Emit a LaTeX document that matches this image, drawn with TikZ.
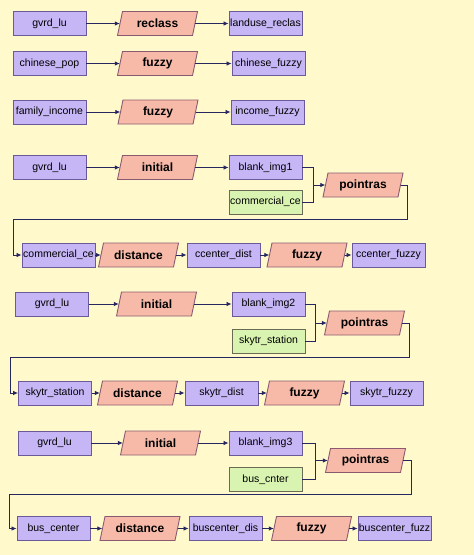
\documentclass[tikz,border=0pt]{standalone}
\usepackage{fontspec}
\setmainfont{Liberation Sans}
\usetikzlibrary{arrows.meta}
\definecolor{bg}{HTML}{FFF9CC}
\definecolor{boxfill}{HTML}{C6B6F6}
\definecolor{boxdraw}{HTML}{6A5A9A}
\definecolor{greenfill}{HTML}{D9F4B0}
\definecolor{greendraw}{HTML}{6A6A55}
\definecolor{toolfill}{HTML}{F8BAA8}
\definecolor{tooldraw}{HTML}{8A5A70}
\definecolor{conncol}{HTML}{262660}
\tikzset{
  x=1pt, y=-1pt,
  databox/.style={rectangle, draw=boxdraw, fill=boxfill, line width=0.9pt,
    minimum width=73pt, minimum height=24pt, inner sep=0pt,
    font=\fontsize{10.5}{12}\selectfont},
  inbox/.style={databox, draw=greendraw, fill=greenfill},
  toolnode/.style={rectangle, minimum width=75pt, minimum height=24pt, inner sep=0pt,
    font=\bfseries\fontsize{12}{13}\selectfont},
  toolshape/.style={draw=tooldraw, fill=toolfill, line width=0.9pt},
  conn/.style={draw=conncol, line width=0.8pt, -{Latex[length=5pt,width=4.5pt]}},
  plain/.style={draw=conncol, line width=0.8pt}
}
\newcommand\tool[4]{%
  \path[toolshape] ({#2-40},{#3+12}) -- ({#2-35},{#3-12}) -- ({#2+40},{#3-12}) -- ({#2+35},{#3+12}) -- cycle;
  \node[toolnode] (#1) at (#2,#3) {#4};}
\begin{document}
\begin{tikzpicture}
\fill[bg] (0,0) rectangle (474,555);
\useasboundingbox (0,0) rectangle (474,555);
% row 1
\node[databox] (a1) at (49.5,23.5) {gvrd\_lu};
\tool{a2}{157.5}{23.5}{reclass}
\node[databox] (a3) at (265.5,23.5) {landuse\_reclas};
\draw[conn] (a1) -- (a2);
\draw[conn] (a2) -- (a3);
% row 2
\node[databox] (b1) at (49.5,63.5) {chinese\_pop};
\tool{b2}{157.5}{63.5}{fuzzy}
\node[databox] (b3) at (268.5,63.5) {chinese\_fuzzy};
\draw[conn] (b1) -- (b2);
\draw[conn] (b2) -- (b3);
% row 3
\node[databox] (c1) at (49.5,112) {family\_income};
\tool{c2}{158}{112}{fuzzy}
\node[databox] (c3) at (267.5,112) {income\_fuzzy};
\draw[conn] (c1) -- (c2);
\draw[conn] (c2) -- (c3);
% block 1
\node[databox] (d1) at (49.5,167.5) {gvrd\_lu};
\tool{d2}{157.5}{167.5}{initial}
\node[databox] (d3) at (265.5,167.5) {blank\_img1};
\node[inbox] (d4) at (265.5,202) {commercial\_ce};
\tool{d5}{363}{185}{pointras}
\coordinate (dj) at (313,185);
\coordinate (dt) at (407,219);
\coordinate (du) at (13,219);
\draw[conn] (d1) -- (d2);
\draw[conn] (d2) -- (d3);
\draw[conn] (d3.east) -| (dj) -- (d5.west);
\draw[plain] (d4.east) -| (dj);
\node[databox] (e1) at (58.5,255) {commercial\_ce};
\tool{e2}{138.5}{255}{distance}
\node[databox] (e3) at (223.5,255) {ccenter\_dist};
\tool{e4}{307}{255}{fuzzy}
\node[databox] (e5) at (388.5,255) {ccenter\_fuzzy};
\draw[conn] (d5.east) -| (dt) -- (du) |- (e1.west);
\draw[conn] (e1) -- (e2);
\draw[conn] (e2) -- (e3);
\draw[conn] (e3) -- (e4);
\draw[conn] (e4) -- (e5);
% block 2
\node[databox] (f1) at (52,304) {gvrd\_lu};
\tool{f2}{156.5}{304}{initial}
\node[databox] (f3) at (268.5,304) {blank\_img2};
\node[inbox] (f4) at (268.5,341) {skytr\_station};
\tool{f5}{364.5}{323}{pointras}
\coordinate (fj) at (315,323);
\coordinate (ft) at (409,357);
\coordinate (fu) at (10,357);
\draw[conn] (f1) -- (f2);
\draw[conn] (f2) -- (f3);
\draw[conn] (f3.east) -| (fj) -- (f5.west);
\draw[plain] (f4.east) -| (fj);
\node[databox] (g1) at (55,393) {skytr\_station};
\tool{g2}{137.5}{393}{distance}
\node[databox] (g3) at (221.5,393) {skytr\_dist};
\tool{g4}{304.5}{393}{fuzzy}
\node[databox] (g5) at (386.5,393) {skytr\_fuzzy};
\draw[conn] (f5.east) -| (ft) -- (fu) |- (g1.west);
\draw[conn] (g1) -- (g2);
\draw[conn] (g2) -- (g3);
\draw[conn] (g3) -- (g4);
\draw[conn] (g4) -- (g5);
% block 3
\node[databox] (h1) at (54.5,443) {gvrd\_lu};
\tool{h2}{160.5}{443}{initial}
\node[databox] (h3) at (265.5,443) {blank\_img3};
\node[inbox] (h4) at (265.5,479.5) {bus\_cnter};
\tool{h5}{365.5}{460.5}{pointras}
\coordinate (hj) at (315,460.5);
\coordinate (ht) at (411,494);
\coordinate (hu) at (9,494);
\draw[conn] (h1) -- (h2);
\draw[conn] (h2) -- (h3);
\draw[conn] (h3.east) -| (hj) -- (h5.west);
\draw[plain] (h4.east) -| (hj);
\node[databox] (i1) at (53.5,528.5) {bus\_center};
\tool{i2}{140}{528.5}{distance}
\node[databox] (i3) at (225.5,528.5) {buscenter\_dis};
\tool{i4}{311.5}{528.5}{fuzzy}
\node[databox] (i5) at (394.5,528.5) {buscenter\_fuzz};
\draw[conn] (h5.east) -| (ht) -- (hu) |- (i1.west);
\draw[conn] (i1) -- (i2);
\draw[conn] (i2) -- (i3);
\draw[conn] (i3) -- (i4);
\draw[conn] (i4) -- (i5);
\end{tikzpicture}
\end{document}
